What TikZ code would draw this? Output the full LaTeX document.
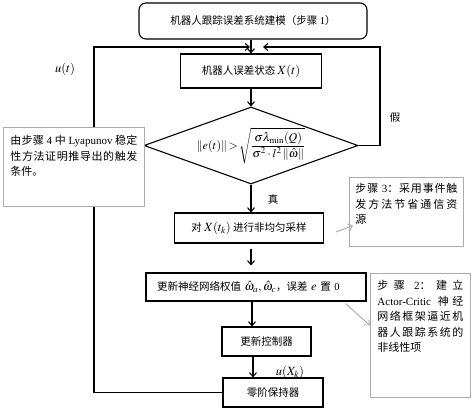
\documentclass[tikz,border=0pt]{standalone}
\usepackage{amsmath}
\usepackage{mathptmx}
\usepackage[no-math]{fontspec}
\setmainfont{Noto Sans CJK SC}
\newfontfamily\lat{Liberation Serif}
\usetikzlibrary{shapes.geometric,arrows.meta}
\XeTeXlinebreaklocale "zh"
\XeTeXlinebreakskip=0pt plus 1pt
\newcommand{\bigmath}[1]{{\fontsize{12.5}{14}\selectfont$#1$}}
\begin{document}
\begin{tikzpicture}[x=1pt, y=-1pt, line width=1.1pt, font=\fontsize{10.5}{13}\selectfont,
    block/.style={draw, rectangle, inner sep=0pt, align=center},
    cond/.style={draw, diamond, aspect=2.78, inner sep=0pt, minimum width=214pt, minimum height=77pt},
    note/.style={draw=gray!65, line width=0.9pt, fill=white, anchor=north west, font=\fontsize{11}{15.5}\selectfont},
    flow/.style={-{Straight Barb[length=4pt,width=7pt]}},
    hint/.style={draw=gray!65, line width=0.9pt, -{Straight Barb[length=4pt,width=7pt]}}]
    \useasboundingbox (0,0) rectangle (474,412);
    \fill[white] (0,0) rectangle (474,412);
    % main column
    \node[block, rounded corners=7pt, minimum width=228pt, minimum height=36pt] (model) at (253,21) {机器人跟踪误差系统建模（步骤 {\lat 1}）};
    \node[block, minimum width=141pt, minimum height=34pt] (state) at (251,71) {机器人误差状态 \bigmath{X(t)}};
    \node[cond, font=\fontsize{12}{14}\selectfont] (trig) at (251,145.5) {$\|e(t)\|\!>\!\sqrt{\dfrac{\sigma\lambda_{\min}(Q)}{\sigma^{2}\cdot l^{2}\,\|\hat{\omega}\|}}$};
    \node[block, minimum width=149pt, minimum height=30pt] (samp) at (249,228) {对 \bigmath{X(t_k)} 进行非均匀采样};
    \node[block, text width=198pt, inner xsep=11pt, align=left, minimum height=28pt] (upd) at (256,287) {更新神经网络权值 \bigmath{\hat{\omega}_a,\hat{\omega}_c}，误差 \bigmath{e} 置 {\lat 0}};
    \node[block, minimum width=89pt, minimum height=29pt] (ctrl) at (266.5,341.5) {更新控制器};
    \node[block, minimum width=100pt, minimum height=29pt] (zoh) at (273,392.5) {零阶保持器};
    \coordinate (axis) at (251,0);
    \coordinate (joinL) at (250,47);
    \coordinate (joinR) at (263,47);
    \coordinate (loopL) at (94,47);
    \coordinate (loopR) at (380,47);
    \draw[flow] (axis |- model.south) -- (axis |- state.north);
    \draw[flow] (state) -- (trig);
    \draw[flow] (trig) -- (axis |- samp.north);
    \draw[flow, shorten <=5pt, shorten >=7pt] (axis |- samp.south) -- (axis |- upd.north);
    \draw[flow] ([xshift=1pt]axis |- upd.south) -- ([xshift=1pt]axis |- ctrl.north);
    \draw[flow] ([xshift=2pt]axis |- ctrl.south) -- ([xshift=2pt]axis |- zoh.north);
    % feedback loops
    \draw[flow] (zoh.west) -| (loopL) -- (joinL);
    \draw[flow] (trig.east) -| (loopR) -- (joinR);
    \node (ut) at (65,69) {\bigmath{u(t)}};
    \node (no) at (395,118) {假};
    \node (yes) at (273,199) {真};
    \node (uk) at (290,372) {\bigmath{u(X_k)}};
    % side notes
    \node[note, inner xsep=7pt, inner ysep=8pt] (lyap) at (3,127) {\parbox[t][63pt][t]{127pt}{由步骤 {\lat 4} 中 {\lat Lyapunov} 稳定\linebreak 性方法证明推导出的触发\linebreak 条件。}};
    \node[note, inner xsep=6pt, inner ysep=6pt] (step3) at (349,177) {\parbox[t][57pt][t]{102pt}{步骤 {\lat 3}：采用事件触\linebreak 发方法节省通信资\linebreak 源}};
    \node[note, inner xsep=7pt, inner ysep=7pt] (step2) at (370,273) {\parbox[t][110pt][t]{86pt}{步骤 {\lat 2}：建立\linebreak {\lat Actor-Critic} 神经\linebreak 网络框架逼近机\linebreak 器人跟踪系统的\linebreak 非线性项}};
    \draw[hint] ([xshift=12pt,yshift=-4pt]samp.east) -- ([xshift=4pt,yshift=-13.5pt]step3.west);
    \draw[hint] ([xshift=-21pt,yshift=-2pt]upd.south east) -- ([yshift=10pt]step2.west);
\end{tikzpicture}
\end{document}
